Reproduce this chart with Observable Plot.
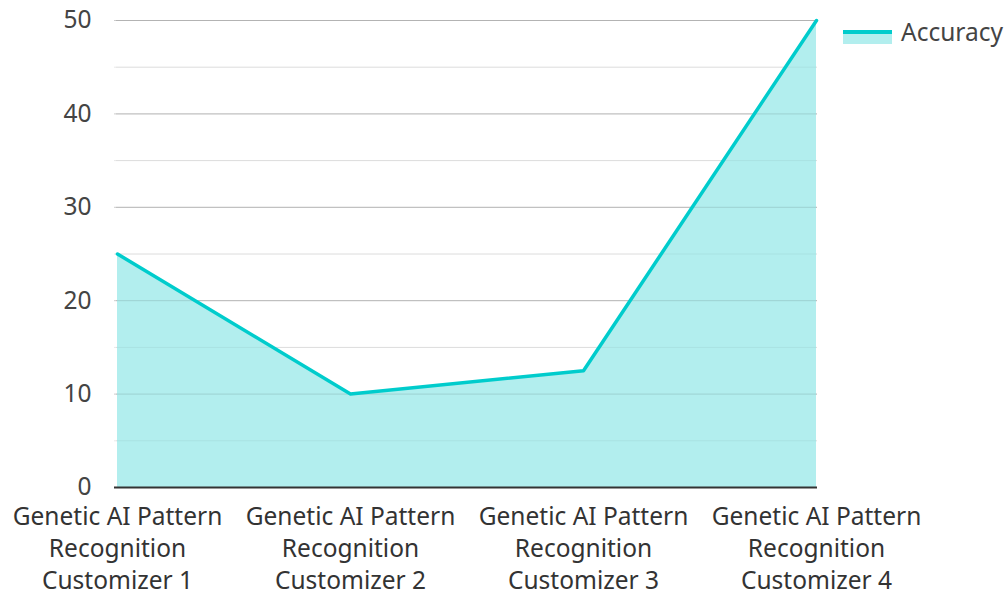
<!DOCTYPE html>
<html><head><meta charset="utf-8">
<script src="https://cdn.jsdelivr.net/npm/d3@7"></script>
<script src="https://cdn.jsdelivr.net/npm/@observablehq/plot@0.6"></script>
<style>
body{margin:0;background:#fff;font-family:"Noto Sans",sans-serif;}
#wrap{position:relative;width:1007px;height:591px;overflow:hidden;}
#legend{position:absolute;left:843px;top:15px;display:flex;align-items:center;font-size:24.5px;color:#444;white-space:nowrap;}
#sw{width:49px;height:24px;position:relative;margin-right:9px;}
#sw .fill{position:absolute;left:0;top:12px;width:49px;height:12px;background:#b2eeee;}
#sw .ln{position:absolute;left:0;top:10px;width:49px;height:4px;background:#00cccc;}
</style></head><body>
<div id="wrap"><div id="legend"><div id="sw"><div class="fill"></div><div class="ln"></div></div><span>Accuracy</span></div></div>
<script>
const categories = ["Genetic AI Pattern Recognition Customizer 1","Genetic AI Pattern Recognition Customizer 2","Genetic AI Pattern Recognition Customizer 3","Genetic AI Pattern Recognition Customizer 4"];
const accuracy = [25, 10, 12.5, 50];
const yTicks = [0, 10, 20, 30, 40, 50];
const minorTicks = [5, 15, 25, 35, 45];
const seriesName = "Accuracy";

const data = categories.map((c, i) => ({cat: c, value: accuracy[i]}));
const wrapLabel = s => s.replace("Genetic AI Pattern ", "Genetic AI Pattern\n").replace("Recognition ", "Recognition\n");

const chart = Plot.plot({
  width: 1007, height: 591,
  marginLeft: 116, marginRight: 190, marginTop: 20, marginBottom: 104,
  style: {fontFamily: "'Noto Sans', sans-serif", fontSize: "24.5px", color: "#444", background: "#fff", overflow: "visible"},
  x: {type: "point", domain: categories, padding: 0},
  y: {domain: [0, 50]},
  marks: [
    Plot.ruleY(minorTicks, {stroke: "#e8e8e8", strokeWidth: 1, insetLeft: -2}),
    Plot.ruleY(yTicks.filter(d => d > 0), {stroke: "#cccccc", strokeWidth: 1, insetLeft: -2}),
    Plot.areaY(data, {x: "cat", y: "value", fill: "#b2eeee", fillOpacity: 1}),
    Plot.ruleY(minorTicks, {stroke: "#000", strokeOpacity: 0.05, strokeWidth: 1}),
    Plot.ruleY(yTicks.filter(d => d > 0), {stroke: "#000", strokeOpacity: 0.12, strokeWidth: 1}),
    Plot.lineY(data, {x: "cat", y: "value", stroke: "#00cccc", strokeWidth: 3.5}),
    Plot.ruleY([0], {stroke: "#333", strokeWidth: 2, insetLeft: -2}),
    Plot.axisY({ticks: yTicks, tickSize: 0, tickPadding: 25, fontSize: 24.5, fill: "#444", label: null}),
    Plot.axisX({tickSize: 0, tickPadding: 15, fontSize: 24.5, fill: "#333", label: null, tickFormat: wrapLabel, lineHeight: 1.3})
  ]
});
document.getElementById("wrap").prepend(chart);
chart.style.position = "absolute"; chart.style.left = "0"; chart.style.top = "0";
</script>
</body></html>
